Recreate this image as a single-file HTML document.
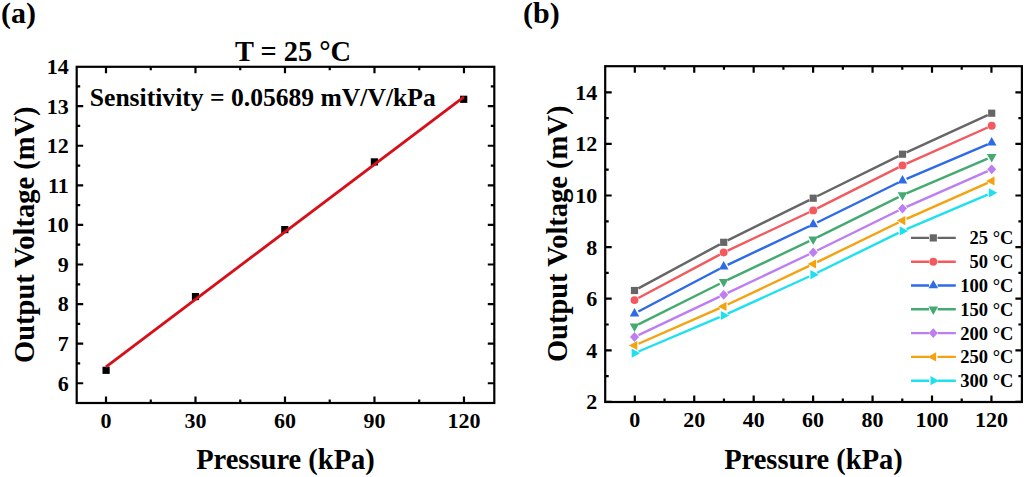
<!DOCTYPE html>
<html><head><meta charset="utf-8"><style>
html,body{margin:0;padding:0;background:#fff;width:1025px;height:477px;overflow:hidden}
svg{display:block}
</style></head><body>
<svg width="1025" height="477" viewBox="0 0 1025 477" style="font-family:'Liberation Serif',serif;font-weight:bold"><rect width="1025" height="477" fill="#fff"/><rect x="76.70" y="66.80" width="417.60" height="336.20" fill="none" stroke="#000" stroke-width="2.2"/><path d="M106.00 403.00V396.50M106.00 66.80V73.30M195.49 403.00V396.50M195.49 66.80V73.30M284.98 403.00V396.50M284.98 66.80V73.30M374.47 403.00V396.50M374.47 66.80V73.30M463.96 403.00V396.50M463.96 66.80V73.30M150.75 403.00V399.50M150.75 66.80V70.30M240.24 403.00V399.50M240.24 66.80V70.30M329.73 403.00V399.50M329.73 66.80V70.30M419.22 403.00V399.50M419.22 66.80V70.30M76.70 383.24H83.20M494.30 383.24H487.80M76.70 343.66H83.20M494.30 343.66H487.80M76.70 304.08H83.20M494.30 304.08H487.80M76.70 264.50H83.20M494.30 264.50H487.80M76.70 224.92H83.20M494.30 224.92H487.80M76.70 185.34H83.20M494.30 185.34H487.80M76.70 145.76H83.20M494.30 145.76H487.80M76.70 106.18H83.20M494.30 106.18H487.80M76.70 363.45H80.20M494.30 363.45H490.80M76.70 323.87H80.20M494.30 323.87H490.80M76.70 284.29H80.20M494.30 284.29H490.80M76.70 244.71H80.20M494.30 244.71H490.80M76.70 205.13H80.20M494.30 205.13H490.80M76.70 165.55H80.20M494.30 165.55H490.80M76.70 125.97H80.20M494.30 125.97H490.80M76.70 86.39H80.20M494.30 86.39H490.80" stroke="#000" stroke-width="2.2" fill="none"/><rect x="605.20" y="66.20" width="416.70" height="335.80" fill="none" stroke="#000" stroke-width="2.2"/><path d="M634.80 402.00V395.50M634.80 66.20V72.70M694.24 402.00V395.50M694.24 66.20V72.70M753.68 402.00V395.50M753.68 66.20V72.70M813.12 402.00V395.50M813.12 66.20V72.70M872.56 402.00V395.50M872.56 66.20V72.70M932.00 402.00V395.50M932.00 66.20V72.70M991.44 402.00V395.50M991.44 66.20V72.70M664.52 402.00V398.50M664.52 66.20V69.70M723.96 402.00V398.50M723.96 66.20V69.70M783.40 402.00V398.50M783.40 66.20V69.70M842.84 402.00V398.50M842.84 66.20V69.70M902.28 402.00V398.50M902.28 66.20V69.70M961.72 402.00V398.50M961.72 66.20V69.70M605.20 401.90H611.70M1021.90 401.90H1015.40M605.20 350.30H611.70M1021.90 350.30H1015.40M605.20 298.70H611.70M1021.90 298.70H1015.40M605.20 247.10H611.70M1021.90 247.10H1015.40M605.20 195.50H611.70M1021.90 195.50H1015.40M605.20 143.90H611.70M1021.90 143.90H1015.40M605.20 92.30H611.70M1021.90 92.30H1015.40M605.20 376.10H608.70M1021.90 376.10H1018.40M605.20 324.50H608.70M1021.90 324.50H1018.40M605.20 272.90H608.70M1021.90 272.90H1018.40M605.20 221.30H608.70M1021.90 221.30H1018.40M605.20 169.70H608.70M1021.90 169.70H1018.40M605.20 118.10H608.70M1021.90 118.10H1018.40" stroke="#000" stroke-width="2.2" fill="none"/><text x="106.00" y="428" font-size="22" text-anchor="middle">0</text><text x="195.49" y="428" font-size="22" text-anchor="middle">30</text><text x="284.98" y="428" font-size="22" text-anchor="middle">60</text><text x="374.47" y="428" font-size="22" text-anchor="middle">90</text><text x="463.96" y="428" font-size="22" text-anchor="middle">120</text><text x="68.8" y="390.64" font-size="22" text-anchor="end">6</text><text x="68.8" y="351.06" font-size="22" text-anchor="end">7</text><text x="68.8" y="311.48" font-size="22" text-anchor="end">8</text><text x="68.8" y="271.90" font-size="22" text-anchor="end">9</text><text x="68.8" y="232.32" font-size="22" text-anchor="end">10</text><text x="68.8" y="192.74" font-size="22" text-anchor="end">11</text><text x="68.8" y="153.16" font-size="22" text-anchor="end">12</text><text x="68.8" y="113.58" font-size="22" text-anchor="end">13</text><text x="68.8" y="74.00" font-size="22" text-anchor="end">14</text><text x="634.80" y="427" font-size="22" text-anchor="middle">0</text><text x="694.24" y="427" font-size="22" text-anchor="middle">20</text><text x="753.68" y="427" font-size="22" text-anchor="middle">40</text><text x="813.12" y="427" font-size="22" text-anchor="middle">60</text><text x="872.56" y="427" font-size="22" text-anchor="middle">80</text><text x="932.00" y="427" font-size="22" text-anchor="middle">100</text><text x="991.44" y="427" font-size="22" text-anchor="middle">120</text><text x="597.3" y="409.30" font-size="22" text-anchor="end">2</text><text x="597.3" y="357.70" font-size="22" text-anchor="end">4</text><text x="597.3" y="306.10" font-size="22" text-anchor="end">6</text><text x="597.3" y="254.50" font-size="22" text-anchor="end">8</text><text x="597.3" y="202.90" font-size="22" text-anchor="end">10</text><text x="597.3" y="151.30" font-size="22" text-anchor="end">12</text><text x="597.3" y="99.70" font-size="22" text-anchor="end">14</text><text x="285.5" y="468.7" font-size="28.5" text-anchor="middle">Pressure (kPa)</text><text x="813.5" y="468.5" font-size="28.5" text-anchor="middle">Pressure (kPa)</text><text transform="translate(34.1,234.7) rotate(-90)" font-size="28.5" text-anchor="middle">Output Voltage (mV)</text><text transform="translate(566.5,233.85) rotate(-90)" font-size="28.5" text-anchor="middle">Output Voltage (mV)</text><text x="1" y="22.8" font-size="30">(a)</text><text x="523" y="23.1" font-size="30">(b)</text><text x="293" y="60.6" font-size="28.4" text-anchor="middle">T = 25 &#176;C</text><text x="89.8" y="105.5" font-size="25.6">Sensitivity = 0.05689 mV/V/kPa</text><rect x="102.50" y="366.70" width="7.2" height="7.2" fill="#000"/><rect x="191.90" y="293.00" width="7.2" height="7.2" fill="#000"/><rect x="281.20" y="226.00" width="7.2" height="7.2" fill="#000"/><rect x="370.80" y="158.30" width="7.2" height="7.2" fill="#000"/><rect x="460.10" y="95.70" width="7.2" height="7.2" fill="#000"/><line x1="106" y1="366.9" x2="464" y2="96.9" stroke="#D6101A" stroke-width="2.9"/><path d="M638.37 288.41L719.83 244.39M727.65 240.36L809.25 200.14M817.15 196.26L898.55 156.14M906.50 152.36L987.70 115.04" stroke="#666666" stroke-width="2.4" fill="none"/><rect x="630.90" y="286.90" width="7.2" height="7.2" fill="#666666"/><rect x="720.10" y="238.70" width="7.2" height="7.2" fill="#666666"/><rect x="809.60" y="194.60" width="7.2" height="7.2" fill="#666666"/><rect x="898.90" y="150.60" width="7.2" height="7.2" fill="#666666"/><rect x="988.10" y="109.60" width="7.2" height="7.2" fill="#666666"/><path d="M638.38 298.03L719.82 254.57M727.68 250.63L809.22 212.27M817.13 208.42L898.57 167.38M906.52 163.61L987.68 127.49" stroke="#F25A5F" stroke-width="2.4" fill="none"/><circle cx="634.50" cy="300.10" r="3.95" fill="#F25A5F"/><circle cx="723.70" cy="252.50" r="3.95" fill="#F25A5F"/><circle cx="813.20" cy="210.40" r="3.95" fill="#F25A5F"/><circle cx="902.50" cy="165.40" r="3.95" fill="#F25A5F"/><circle cx="991.70" cy="125.70" r="3.95" fill="#F25A5F"/><path d="M638.39 311.55L719.81 268.75M727.68 264.82L809.22 226.28M817.15 222.46L898.55 182.54M906.55 178.88L987.65 144.42" stroke="#2E6BE6" stroke-width="2.4" fill="none"/><path d="M634.50 308.00L639.30 316.40L629.70 316.40Z" fill="#2E6BE6"/><path d="M723.70 261.10L728.50 269.50L718.90 269.50Z" fill="#2E6BE6"/><path d="M813.20 218.80L818.00 227.20L808.40 227.20Z" fill="#2E6BE6"/><path d="M902.50 175.00L907.30 183.40L897.70 183.40Z" fill="#2E6BE6"/><path d="M991.70 137.10L996.50 145.50L986.90 145.50Z" fill="#2E6BE6"/><path d="M638.44 324.43L719.76 283.77M727.67 279.91L809.23 241.19M817.14 237.35L898.56 197.05M906.54 193.37L987.66 158.63" stroke="#45AA72" stroke-width="2.4" fill="none"/><path d="M634.50 332.00L639.30 323.60L629.70 323.60Z" fill="#45AA72"/><path d="M723.70 287.40L728.50 279.00L718.90 279.00Z" fill="#45AA72"/><path d="M813.20 244.90L818.00 236.50L808.40 236.50Z" fill="#45AA72"/><path d="M902.50 200.70L907.30 192.30L897.70 192.30Z" fill="#45AA72"/><path d="M991.70 162.50L996.50 154.10L986.90 154.10Z" fill="#45AA72"/><path d="M638.48 335.12L719.72 296.68M727.68 292.92L809.22 254.28M817.15 250.46L898.55 210.54M906.53 206.83L987.67 171.07" stroke="#BD7EF2" stroke-width="2.4" fill="none"/><path d="M634.50 332.10L639.00 337.00L634.50 341.90L630.00 337.00Z" fill="#BD7EF2"/><path d="M723.70 289.90L728.20 294.80L723.70 299.70L719.20 294.80Z" fill="#BD7EF2"/><path d="M813.20 247.50L817.70 252.40L813.20 257.30L808.70 252.40Z" fill="#BD7EF2"/><path d="M902.50 203.70L907.00 208.60L902.50 213.50L898.00 208.60Z" fill="#BD7EF2"/><path d="M991.70 164.40L996.20 169.30L991.70 174.20L987.20 169.30Z" fill="#BD7EF2"/><path d="M638.53 343.73L719.67 308.17M727.68 304.52L809.22 265.88M817.16 262.08L898.54 222.52M906.52 218.81L987.68 182.79" stroke="#F5A20F" stroke-width="2.4" fill="none"/><path d="M628.90 345.50L637.30 340.90L637.30 350.10Z" fill="#F5A20F"/><path d="M718.10 306.40L726.50 301.80L726.50 311.00Z" fill="#F5A20F"/><path d="M807.60 264.00L816.00 259.40L816.00 268.60Z" fill="#F5A20F"/><path d="M896.90 220.60L905.30 216.00L905.30 225.20Z" fill="#F5A20F"/><path d="M986.10 181.00L994.50 176.40L994.50 185.60Z" fill="#F5A20F"/><path d="M638.55 351.49L719.65 317.21M727.70 313.67L809.20 276.53M817.15 272.76L898.55 232.84M906.55 229.17L987.65 194.53" stroke="#1FE0EF" stroke-width="2.4" fill="none"/><path d="M640.10 353.20L631.70 348.60L631.70 357.80Z" fill="#1FE0EF"/><path d="M729.30 315.50L720.90 310.90L720.90 320.10Z" fill="#1FE0EF"/><path d="M818.80 274.70L810.40 270.10L810.40 279.30Z" fill="#1FE0EF"/><path d="M908.10 230.90L899.70 226.30L899.70 235.50Z" fill="#1FE0EF"/><path d="M997.30 192.80L988.90 188.20L988.90 197.40Z" fill="#1FE0EF"/><path d="M911 237.90H929M937.6 237.90H955.8" stroke="#666666" stroke-width="2.4"/><rect x="929.70" y="234.30" width="7.2" height="7.2" fill="#666666"/><text x="1013.4" y="244.40" font-size="18.5" text-anchor="end">25 &#176;C</text><path d="M911 261.70H929M937.6 261.70H955.8" stroke="#F25A5F" stroke-width="2.4"/><circle cx="933.30" cy="261.70" r="3.95" fill="#F25A5F"/><text x="1013.4" y="268.20" font-size="18.5" text-anchor="end">50 &#176;C</text><path d="M911 285.50H929M937.6 285.50H955.8" stroke="#2E6BE6" stroke-width="2.4"/><path d="M933.30 279.90L938.10 288.30L928.50 288.30Z" fill="#2E6BE6"/><text x="1013.4" y="292.00" font-size="18.5" text-anchor="end">100 &#176;C</text><path d="M911 309.30H929M937.6 309.30H955.8" stroke="#45AA72" stroke-width="2.4"/><path d="M933.30 314.90L938.10 306.50L928.50 306.50Z" fill="#45AA72"/><text x="1013.4" y="315.80" font-size="18.5" text-anchor="end">150 &#176;C</text><path d="M911 333.10H929M937.6 333.10H955.8" stroke="#BD7EF2" stroke-width="2.4"/><path d="M933.30 328.20L937.80 333.10L933.30 338.00L928.80 333.10Z" fill="#BD7EF2"/><text x="1013.4" y="339.60" font-size="18.5" text-anchor="end">200 &#176;C</text><path d="M911 356.90H929M937.6 356.90H955.8" stroke="#F5A20F" stroke-width="2.4"/><path d="M927.70 356.90L936.10 352.30L936.10 361.50Z" fill="#F5A20F"/><text x="1013.4" y="363.40" font-size="18.5" text-anchor="end">250 &#176;C</text><path d="M911 380.70H929M937.6 380.70H955.8" stroke="#1FE0EF" stroke-width="2.4"/><path d="M938.90 380.70L930.50 376.10L930.50 385.30Z" fill="#1FE0EF"/><text x="1013.4" y="387.20" font-size="18.5" text-anchor="end">300 &#176;C</text></svg>
</body></html>
